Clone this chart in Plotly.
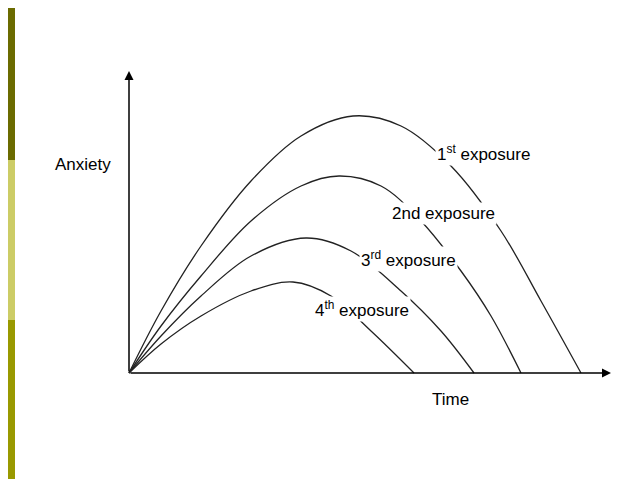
import plotly.graph_objects as go

# curve samples (time, anxiety), origin at the axes corner
t1 = [0, 32, 72, 122, 172, 224, 272, 322, 372, 412, 452]
a1 = [0, 62, 127, 192, 237, 257, 247, 207, 142, 72, 0]
t2 = [0, 32, 72, 122, 172, 210, 252, 292, 332, 362, 392]
a2 = [0, 47, 97, 152, 187, 197, 187, 152, 102, 57, 0]
t3 = [0, 32, 72, 122, 177, 222, 272, 312, 345]
a3 = [0, 37, 77, 117, 135, 122, 82, 42, 0]
t4 = [0, 32, 72, 122, 164, 202, 242, 285]
a4 = [0, 29, 57, 82, 91, 77, 42, 0]

labels = ["1<sup>st</sup> exposure", "2nd exposure", "3<sup>rd</sup> exposure", "4<sup>th</sup> exposure"]
label_pos = [(354, 220), (314, 160), (279, 114), (233, 64)]

fig = go.Figure()
for t, a in [(t1, a1), (t2, a2), (t3, a3), (t4, a4)]:
    fig.add_trace(go.Scatter(x=t, y=a, mode="lines", line_shape="spline",
                             line=dict(color="#222222", width=1.3), hoverinfo="skip"))

for txt, (x, y) in zip(labels, label_pos):
    fig.add_annotation(x=x, y=y, text=txt, showarrow=False, bgcolor="white",
                       font=dict(size=17, color="black"))

# axes with arrowheads
fig.add_annotation(x=0, y=302, ax=0, ay=0, axref="x", ayref="y", showarrow=True,
                   arrowhead=2, arrowsize=1.2, arrowwidth=1.5, arrowcolor="black", text="")
fig.add_annotation(x=482, y=0, ax=0, ay=0, axref="x", ayref="y", showarrow=True,
                   arrowhead=2, arrowsize=1.2, arrowwidth=1.5, arrowcolor="black", text="")
fig.add_annotation(x=-46, y=209, text="Anxiety", showarrow=False, font=dict(size=17, color="black"))
fig.add_annotation(x=321, y=-26, text="Time", showarrow=False, font=dict(size=17, color="black"))

# left sidebar bands (page has an 8px offset, so start left of the paper)
for y0, y1, c in [(-8, 152, "#6b6b00"), (152, 312, "#cccc66"), (312, 479, "#999900")]:
    fig.add_shape(type="rect", xref="paper", yref="paper", x0=-8 / 638, x1=7 / 638,
                  y0=1 - y1 / 479, y1=1 - y0 / 479, fillcolor=c, line_width=0, layer="below")

fig.update_layout(
    width=638, height=479, margin=dict(l=0, r=0, t=0, b=0),
    plot_bgcolor="white", paper_bgcolor="white", showlegend=False,
    font_family="Liberation Sans",
    xaxis=dict(range=[-121, 517], visible=False, fixedrange=True),
    yaxis=dict(range=[-114, 365], visible=False, fixedrange=True),
)
fig.write_html("out.html")
